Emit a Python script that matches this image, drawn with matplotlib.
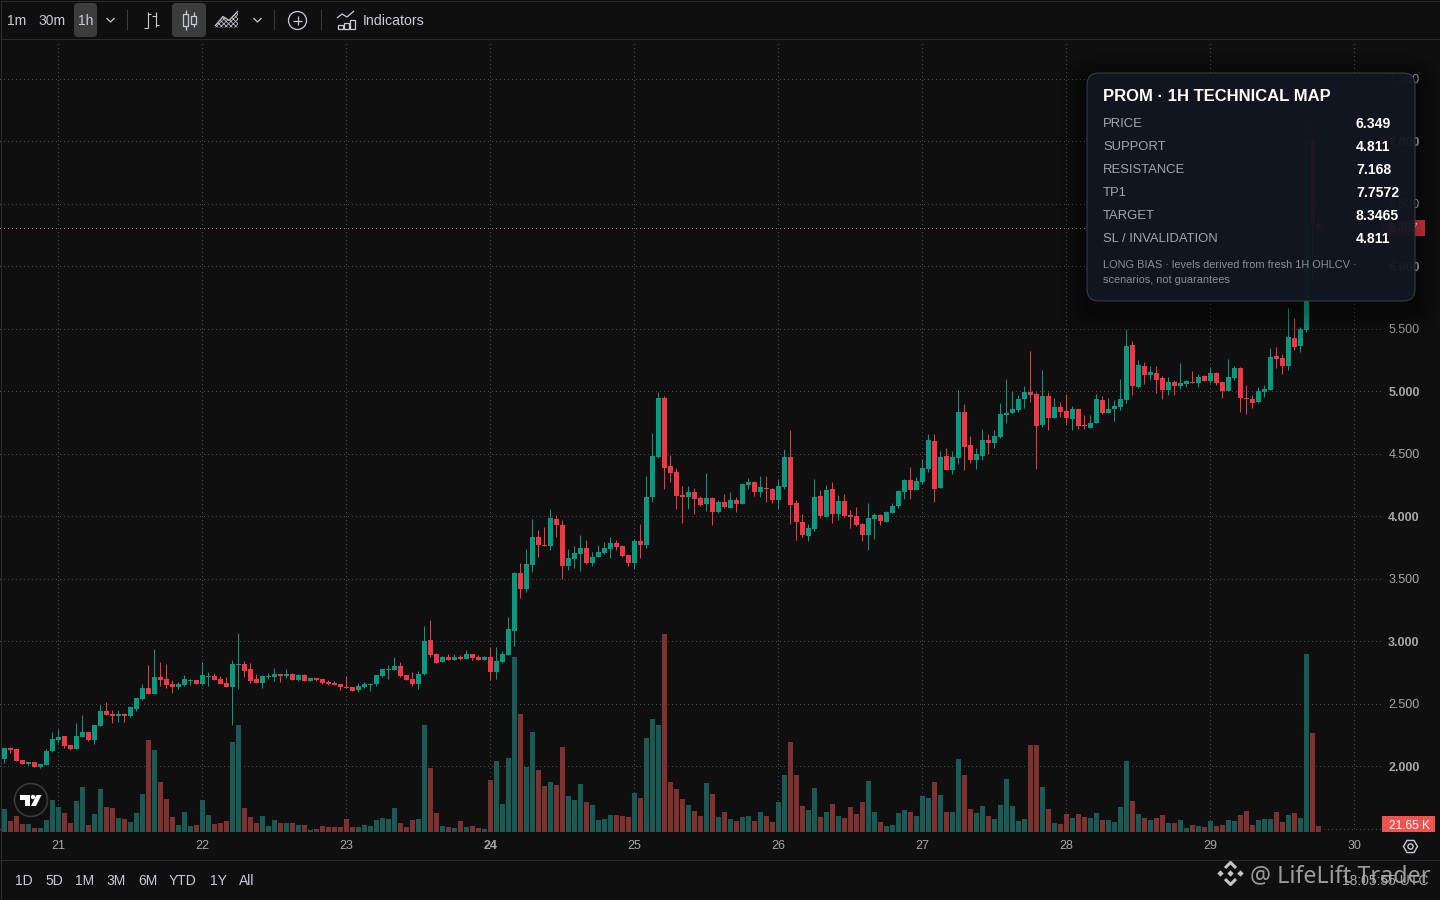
import matplotlib
matplotlib.use('Agg')
import numpy as np
from matplotlib import pyplot as plt
from matplotlib.patches import Rectangle, FancyBboxPatch, Circle, Polygon, RegularPolygon

plt.rcParams['font.family'] = ['Liberation Sans', 'DejaVu Sans']
plt.rcParams['hatch.linewidth'] = 0.6

# hourly candles
opens = [2.056,2.144,2.136,2.048,2.021,2.032,1.992,2.008,2.12,2.208,
         2.24,2.168,2.136,2.232,2.272,2.208,2.32,2.44,2.416,2.4,
         2.419,2.4,2.456,2.536,2.624,2.576,2.712,2.696,2.656,2.632,
         2.648,2.683,2.688,2.656,2.712,2.72,2.696,2.664,2.632,2.808,
         2.816,2.776,2.696,2.664,2.717,2.712,2.736,2.723,2.736,2.688,
         2.728,2.68,2.704,2.696,2.672,2.664,2.656,2.632,2.632,2.608,
         2.632,2.648,2.656,2.72,2.768,2.768,2.8,2.728,2.696,2.656,
         2.736,3.008,2.896,2.832,2.872,2.848,2.872,2.856,2.896,2.872,
         2.848,2.872,2.752,2.832,2.888,3.083,3.544,3.416,3.608,3.832,
         3.768,3.76,3.976,3.928,3.6,3.656,3.696,3.744,3.624,3.672,
         3.704,3.736,3.784,3.76,3.688,3.624,3.8,3.768,4.152,4.472,
         4.944,4.4,4.352,4.168,4.152,4.192,4.144,4.096,4.144,4.032,
         4.112,4.064,4.128,4.096,4.248,4.272,4.192,4.224,4.216,4.128,
         4.232,4.472,4.104,3.952,3.84,3.896,4.16,3.992,4.216,4.016,
         4.12,4.008,4.0,3.936,3.848,3.976,4.008,3.952,4.024,4.08,
         4.192,4.288,4.208,4.272,4.376,4.6,4.224,4.48,4.368,4.464,
         4.832,4.568,4.448,4.48,4.608,4.584,4.632,4.808,4.824,4.848,
         4.936,4.992,4.976,4.728,4.96,4.784,4.872,4.84,4.776,4.856,
         4.728,4.704,4.744,4.928,4.824,4.856,4.872,4.928,5.368,5.032,
         5.2,5.128,5.144,5.104,5.008,5.072,5.04,5.056,5.072,5.064,
         5.12,5.08,5.144,5.072,5.0,5.104,5.184,4.944,4.936,4.912,
         4.992,5.008,5.28,5.264,5.2,5.424,5.36,5.488,7.016,6.344]
highs = [2.144,2.152,2.136,2.048,2.032,2.037,2.016,2.14,2.272,2.296,
         2.24,2.168,2.344,2.408,2.272,2.328,2.488,2.512,2.448,2.448,
         2.427,2.472,2.544,2.656,2.808,2.936,2.832,2.816,2.688,2.672,
         2.728,2.699,2.688,2.832,2.752,2.744,2.72,2.712,2.848,3.064,
         2.84,2.824,2.736,2.728,2.744,2.784,2.736,2.776,2.744,2.736,
         2.736,2.704,2.704,2.696,2.688,2.68,2.656,2.72,2.632,2.664,
         2.672,2.664,2.728,2.776,2.808,2.872,2.832,2.728,2.752,2.76,
         3.12,3.168,2.904,2.88,2.896,2.896,2.888,2.928,2.896,2.888,
         2.88,2.952,2.952,2.92,3.192,3.552,3.624,3.736,3.976,3.888,
         3.912,4.056,4.008,3.968,3.736,3.76,3.848,3.808,3.712,3.768,
         3.792,3.832,3.808,3.768,3.688,3.816,3.936,4.32,4.664,4.992,
         4.96,4.488,4.384,4.24,4.24,4.224,4.16,4.344,4.152,4.128,
         4.176,4.192,4.152,4.264,4.304,4.28,4.32,4.32,4.224,4.296,
         4.536,4.688,4.128,4.016,3.936,4.296,4.208,4.248,4.272,4.168,
         4.176,4.048,4.072,3.944,4.104,4.024,4.016,4.04,4.104,4.208,
         4.296,4.392,4.312,4.456,4.656,4.656,4.52,4.544,4.52,5.008,
         4.896,4.64,4.544,4.696,4.656,4.688,4.904,5.096,5.0,4.968,
         5.04,5.32,4.992,5.168,4.992,4.944,4.912,4.976,4.88,4.856,
         4.808,4.808,4.976,4.96,4.944,4.928,5.096,5.496,5.4,5.248,
         5.232,5.2,5.2,5.12,5.112,5.088,5.224,5.088,5.16,5.136,
         5.128,5.192,5.152,5.072,5.256,5.2,5.192,5.048,4.968,5.032,
         5.048,5.344,5.352,5.296,5.664,5.584,5.512,7.176,7.064,6.408]
lows = [2.024,2.104,2.04,2.016,2.013,1.992,1.987,2.008,2.112,2.184,
        2.144,2.128,2.136,2.232,2.2,2.176,2.32,2.408,2.344,2.352,
        2.352,2.392,2.44,2.528,2.576,2.576,2.64,2.624,2.584,2.616,
        2.64,2.648,2.656,2.648,2.64,2.688,2.656,2.632,2.328,2.616,
        2.712,2.664,2.664,2.624,2.696,2.68,2.672,2.704,2.688,2.68,
        2.68,2.68,2.68,2.656,2.648,2.648,2.608,2.624,2.6,2.592,
        2.624,2.6,2.64,2.712,2.696,2.768,2.712,2.688,2.64,2.616,
        2.728,2.872,2.824,2.832,2.848,2.848,2.848,2.856,2.848,2.848,
        2.848,2.688,2.696,2.824,2.888,2.96,3.344,3.392,3.552,3.672,
        3.76,3.728,3.832,3.496,3.568,3.584,3.56,3.616,3.6,3.672,
        3.696,3.664,3.728,3.672,3.6,3.576,3.664,3.744,4.112,4.464,
        4.216,4.272,4.056,3.944,4.056,4.016,4.08,4.04,3.928,4.024,
        4.064,4.064,4.032,4.096,4.216,4.16,4.152,4.112,4.104,4.056,
        4.216,3.936,3.808,3.832,3.8,3.88,3.984,3.992,3.944,3.968,
        3.992,3.904,3.92,3.8,3.728,3.816,3.928,3.952,4.024,4.064,
        4.136,4.136,4.208,4.256,4.352,4.112,4.224,4.368,4.336,4.416,
        4.368,4.424,4.376,4.448,4.496,4.544,4.624,4.744,4.824,4.832,
        4.864,4.912,4.376,4.712,4.688,4.784,4.792,4.728,4.688,4.696,
        4.696,4.704,4.744,4.816,4.824,4.76,4.848,4.904,4.968,5.024,
        5.056,5.088,4.984,4.936,4.968,4.968,5.016,5.032,5.064,5.032,
        5.08,5.064,5.048,4.944,5.0,5.088,4.832,4.816,4.864,4.904,
        4.952,5.008,5.184,5.136,5.168,5.328,5.312,5.472,5.888,6.264]
closes = [2.144,2.128,2.04,2.016,2.032,1.992,2.016,2.12,2.216,2.232,
          2.16,2.136,2.24,2.272,2.208,2.328,2.44,2.408,2.4,2.416,
          2.4,2.472,2.544,2.624,2.576,2.712,2.688,2.648,2.632,2.656,
          2.696,2.693,2.656,2.728,2.72,2.688,2.656,2.632,2.816,2.819,
          2.76,2.68,2.664,2.72,2.725,2.736,2.72,2.736,2.688,2.728,
          2.68,2.704,2.693,2.664,2.656,2.648,2.632,2.624,2.6,2.64,
          2.656,2.656,2.728,2.776,2.776,2.8,2.72,2.688,2.656,2.736,
          3.0,2.888,2.824,2.872,2.848,2.872,2.856,2.896,2.864,2.848,
          2.872,2.752,2.84,2.896,3.096,3.544,3.416,3.616,3.832,3.768,
          3.76,3.984,3.928,3.6,3.664,3.704,3.744,3.624,3.672,3.712,
          3.744,3.784,3.752,3.68,3.624,3.8,3.768,4.152,4.48,4.944,
          4.384,4.344,4.16,4.152,4.192,4.136,4.088,4.144,4.032,4.112,
          4.072,4.128,4.096,4.256,4.272,4.192,4.232,4.216,4.128,4.24,
          4.472,4.088,3.952,3.848,3.904,4.152,4.0,4.208,4.016,4.12,
          4.0,3.992,3.928,3.848,3.984,4.008,3.96,4.032,4.08,4.2,
          4.288,4.208,4.28,4.384,4.608,4.216,4.472,4.368,4.472,4.832,
          4.552,4.448,4.496,4.608,4.584,4.64,4.816,4.824,4.856,4.936,
          4.992,4.968,4.72,4.96,4.784,4.872,4.832,4.784,4.856,4.72,
          4.72,4.744,4.936,4.824,4.856,4.88,4.936,5.36,5.04,5.208,
          5.128,5.152,5.088,5.008,5.072,5.04,5.064,5.08,5.064,5.112,
          5.08,5.144,5.064,5.0,5.112,5.184,4.944,4.936,4.904,5.0,
          5.016,5.272,5.256,5.2,5.432,5.352,5.496,7.024,6.336,6.307]
# volume in thousands
volumes = [82.8,39.6,57.6,28.8,28.8,14.4,14.4,43.2,115.2,90,
           68.4,32.4,111.6,162,25.2,64.8,154.8,90,86.4,50.4,
           46.8,36,68.4,136.8,331.2,295.2,180,118.8,54,25.2,
           72,21.6,25.2,115.2,61.2,28.8,32.4,39.6,324,385.2,
           86.4,54,32.4,57.6,21.6,43.2,32.4,32.4,32.4,25.2,
           25.2,7.2,10.8,21.6,18,18,18,46.8,18,18,
           25.2,21.6,43.2,50.4,46.8,86.4,32.4,18,43.2,46.8,
           385.2,230.4,68.4,21.6,18,14.4,39.6,18,21.6,14.4,
           10.8,187.2,255.6,100.8,266.4,630,424.8,234,360,223.2,
           165.6,180,169.2,306,129.6,115.2,172.8,108,97.2,43.2,
           46.8,61.2,61.2,57.6,54,140.4,122.4,338.4,406.8,385.2,
           712.8,180,154.8,118.8,97.2,75.6,57.6,176.4,136.8,54,
           72,46.8,39.6,54,57.6,39.6,72,57.6,36,108,
           205.2,324,205.2,93.6,79.2,158.4,54,72,100.8,57.6,
           50.4,90,64.8,108,183.6,72,36,21.6,25.2,68.4,
           79.2,72,57.6,129.6,122.4,180,133.2,72,72,262.8,
           205.2,82.8,68.4,93.6,57.6,46.8,97.2,190.8,93.6,39.6,
           46.8,313.2,313.2,162,82.8,32.4,28.8,64.8,50.4,64.8,
           54,50.4,68.4,43.2,43.2,36,90,255.6,111.6,64.8,
           50.4,43.2,50.4,61.2,32.4,32.4,43.2,14.4,25.2,21.6,
           18,39.6,21.6,25.2,43.2,39.6,61.2,75.6,25.2,43.2,
           46.8,46.8,72,36,61.2,68.4,50.4,640.8,356.4,21.65]

day_ticks = [9, 33, 57, 81, 105, 129, 153, 177, 201, 225]
day_labels = ['21', '22', '23', '24', '25', '26', '27', '28', '29', '30']
price_ticks = [1.5, 2.0, 2.5, 3.0, 3.5, 4.0, 4.5, 5.0, 5.5, 6.0, 6.5, 7.0, 7.5]

row_names = ['PRICE', 'SUPPORT', 'RESISTANCE', 'TP1', 'TARGET', 'SL / INVALIDATION']
row_values = ['6.349', '4.811', '7.168', '7.7572', '8.3465', '4.811']
ranges = ['1D', '5D', '1M', '3M', '6M', 'YTD', '1Y', 'All']

BG = '#0f0f0f'
UP = '#089981'
DOWN = '#f23645'
GRID = '#4a4a4a'
LINE = '#2b2b2b'
TEXT = '#c9ccd3'
AXIS_TEXT = '#a8a8a8'
DOTS = (0, (1, 3))

opens = np.array(opens)
closes = np.array(closes)
x = np.arange(len(opens))
up = closes >= opens

fig = plt.figure(figsize=(14.4, 9), dpi=100, facecolor=BG)
W, H = 1440.0, 900.0
pos = [0, (H - 832) / H, 1381 / W, (832 - 40) / H]

# volume underneath, price above
vol = fig.add_axes(pos, zorder=1, facecolor=BG)
vol.bar(x, volumes, width=5 / 6, color=np.where(up, '#26a69a', '#ef5350'), alpha=0.5, linewidth=0)
vol.set_xlim(-0.75, 229.4167)
vol.set_ylim(0, 2851.2)
vol.axis('off')

ax = fig.add_axes(pos, zorder=2)
ax.patch.set_alpha(0)
ax.set_xlim(-0.75, 229.4167)
ax.set_ylim(1.4744, 7.8104)
ax.set_xticks(day_ticks)
ax.set_xticklabels(day_labels)
ax.set_yticks(price_ticks[1:])
ax.set_yticklabels(['%.3f' % p for p in price_ticks[1:]])
ax.yaxis.tick_right()
ax.tick_params(length=0, labelsize=9, labelcolor=AXIS_TEXT)
ax.tick_params(axis='y', pad=5.2)
ax.tick_params(axis='x', pad=6)
for lab, p in zip(ax.get_yticklabels(), price_ticks[1:]):
    if p == int(p):
        lab.set_fontweight('bold')
ax.get_xticklabels()[3].set_fontweight('bold')
for s in ax.spines.values():
    s.set_visible(False)
ax.grid(True, color=GRID, linewidth=0.72, linestyle=DOTS, antialiased=False)
ax.axhline(1.5, color=GRID, linewidth=0.72, linestyle=DOTS, antialiased=False)
ax.set_axisbelow(True)

colors = np.where(up, UP, DOWN)
ax.vlines(x, lows, highs, color=colors, linewidth=0.72, zorder=3)
ax.bar(x, np.maximum(np.abs(closes - opens), 0.006), bottom=np.minimum(opens, closes),
       width=5 / 6, color=colors, linewidth=0, zorder=4)
ax.axhline(closes[-1], color='#c9626c', linewidth=0.72, linestyle=DOTS, antialiased=False, zorder=2)

# page furniture in pixel coordinates
ui = fig.add_axes([0, 0, 1, 1], zorder=5)
ui.patch.set_alpha(0)
ui.set_xlim(0, W)
ui.set_ylim(H, 0)
ui.axis('off')


def seg(xs, ys, color=TEXT, lw=0.9, z=6):
    ui.plot(xs, ys, color=color, linewidth=lw, solid_capstyle='butt', zorder=z)


def chevron(cx, cy):
    seg([cx - 4, cx, cx + 4], [cy - 2, cy + 2, cy - 2])


# frame and separators
ui.add_patch(Rectangle((0.5, 0.5), 1439, 899, fill=False, edgecolor=LINE, linewidth=0.72, zorder=1))
seg([0, 1440], [39.2, 39.2], LINE, 0.72)
seg([0, 1440], [860.2, 860.2], LINE, 0.72)

# price and volume tags
ui.add_patch(Rectangle((1382, 220), 43, 16, facecolor='#d9333f', zorder=2))
ui.text(1403.5, 232, '%.3f' % closes[-1], color='white', fontsize=8.6, ha='center', va='baseline', zorder=3)
ui.add_patch(Rectangle((1382, 816), 53, 16, facecolor='#ef5350', zorder=2))
ui.text(1409, 829, '%.2f K' % volumes[-1], color='white', fontsize=8.6, ha='center', va='baseline', zorder=3)

# toolbar
ui.add_patch(FancyBboxPatch((74, 3), 23, 34, boxstyle='round,pad=0,rounding_size=4', facecolor='#3c3c3c', linewidth=0, zorder=2))
ui.add_patch(FancyBboxPatch((172, 3), 34, 34, boxstyle='round,pad=0,rounding_size=4', facecolor='#3c3c3c', linewidth=0, zorder=2))
for label, px in zip(['1m', '30m', '1h'], [17, 52, 85.5]):
    ui.text(px, 25, label, color=TEXT, fontsize=10, ha='center', va='baseline', zorder=6)
chevron(110.5, 20)
chevron(257.5, 20)
for sx in [127.1, 274.1, 321.1]:
    seg([sx, sx], [9, 30], '#3a3a3a', 0.72)

# bar style icon
seg([147.5, 147.5], [12, 28], lw=0.8)
seg([144, 147.5], [27.5, 27.5], lw=0.8)
seg([147.5, 151], [13.5, 13.5], lw=0.8)
seg([155.5, 155.5], [12, 27], lw=0.8)
seg([152, 155.5], [15.5, 15.5], lw=0.8)
seg([155.5, 159], [24.5, 24.5], lw=0.8)
# candle style icon
seg([185.5, 185.5], [10, 30])
ui.add_patch(Rectangle((183, 14), 5, 12, facecolor='#3c3c3c', edgecolor=TEXT, linewidth=0.9, zorder=7))
seg([193.5, 193.5], [12, 27])
ui.add_patch(Rectangle((191, 15.5), 5, 8, facecolor='#3c3c3c', edgecolor=TEXT, linewidth=0.9, zorder=7))
# area style icon
ui.add_patch(Polygon([(215, 27.5), (223, 17), (229, 21), (238, 11), (238, 27.5)], facecolor='none',
                     edgecolor='#b8bbc2', hatch='xxxxxxx', linewidth=0, zorder=5))
seg([215, 223, 229, 238], [26, 16.5, 20.5, 11])
# add symbol
ui.add_patch(Circle((297.5, 20.5), 9, fill=False, edgecolor=TEXT, linewidth=0.9, zorder=6))
seg([293, 302], [20.5, 20.5])
seg([297.5, 297.5], [16, 25])
# indicators
seg([337, 342, 347, 354], [18, 14, 17, 11])
for bx, bt in zip([337.5, 343.5, 349.5], [24.5, 22.5, 19.5]):
    ui.add_patch(Rectangle((bx, bt), 5, 28.5 - bt, fill=False, edgecolor=TEXT, linewidth=0.9, zorder=6))
ui.text(363, 25, 'Indicators', color=TEXT, fontsize=10.15, ha='left', va='baseline', zorder=6)

# range buttons
for label, px in zip(ranges, [24, 54, 85, 116, 147.5, 183, 218, 246.5]):
    ui.text(px, 885, label, color=TEXT, fontsize=10, ha='center', va='baseline', zorder=6)

# logo badge
ui.add_patch(Circle((31, 800), 16.5, facecolor=BG, edgecolor='#3a3a3a', linewidth=1.2, zorder=6))
ui.add_patch(Polygon([(20, 795), (30, 795), (30, 806), (25, 806), (25, 799.5), (20, 799.5)], facecolor='white', linewidth=0, zorder=7))
ui.add_patch(Circle((33, 797), 2.2, facecolor='white', linewidth=0, zorder=7))
ui.add_patch(Polygon([(36.5, 795), (41.5, 795), (36, 806), (31, 806)], facecolor='white', linewidth=0, zorder=7))

# settings icon
ui.add_patch(RegularPolygon((1410.5, 846.5), 6, radius=7, orientation=np.pi / 6, fill=False, edgecolor=TEXT, linewidth=1, zorder=6))
ui.add_patch(Circle((1410.5, 846.5), 2.6, fill=False, edgecolor=TEXT, linewidth=1, zorder=6))

# watermark over the clock
ui.text(1428, 885, '18:05:55 UTC', color='#a8a8a8', fontsize=10, ha='right', va='baseline', zorder=6)
ui.text(1250, 882, '@ LifeLift Trader', color='#b4b4b4', alpha=0.85, fontsize=16.8, family=['Noto Sans', 'DejaVu Sans'],
        ha='left', va='baseline', zorder=7)
wm = '#c4c4c4'
for cx, cy, r in [(1220.5, 873.5, 3.2), (1240.5, 873.5, 3.2), (1230.5, 873.5, 3.2)]:
    ui.add_patch(Polygon([(cx - r, cy), (cx, cy - r), (cx + r, cy), (cx, cy + r)], facecolor=wm, linewidth=0, zorder=7))
seg([1225, 1230.5, 1236], [868, 862.5, 868], wm, 2.2, 7)
seg([1225, 1230.5, 1236], [879, 884.5, 879], wm, 2.2, 7)

# soft shadow and the info panel
for grow in range(2, 34, 4):
    ui.add_patch(FancyBboxPatch((1087 - grow, 73 + 8 - grow), 328 + 2 * grow, 228 + 2 * grow,
                                boxstyle='round,pad=0,rounding_size=%d' % (12 + grow),
                                facecolor='black', alpha=0.035, linewidth=0, zorder=8))
ui.add_patch(FancyBboxPatch((1087, 73), 328, 228, boxstyle='round,pad=0,rounding_size=12',
                            facecolor='#111621', edgecolor='none', alpha=0.94, zorder=9))
ui.add_patch(FancyBboxPatch((1087, 73), 328, 228, boxstyle='round,pad=0,rounding_size=12',
                            fill=False, edgecolor='#3b3f48', linewidth=0.72, zorder=10))
ui.text(1103, 101, 'PROM · 1H TECHNICAL MAP', color='white', fontsize=11.95, fontweight='bold', ha='left', va='baseline', zorder=11)
for row, (name, value) in enumerate(zip(row_names, row_values)):
    ui.text(1103, 127 + 23 * row, name, color='#a3a6ad', fontsize=9.4, ha='left', va='baseline', zorder=11)
    ui.text(1356, 128 + 23 * row, value, color='white', fontsize=10.1, fontweight='bold', ha='left', va='baseline', zorder=11)
ui.text(1103, 268, 'LONG BIAS · levels derived from fresh 1H OHLCV ·', color='#8b8e95', fontsize=7.9, ha='left', va='baseline', zorder=11)
ui.text(1103, 283, 'scenarios, not guarantees', color='#8b8e95', fontsize=7.9, ha='left', va='baseline', zorder=11)

fig.savefig('out.png', dpi=100, facecolor=BG)
